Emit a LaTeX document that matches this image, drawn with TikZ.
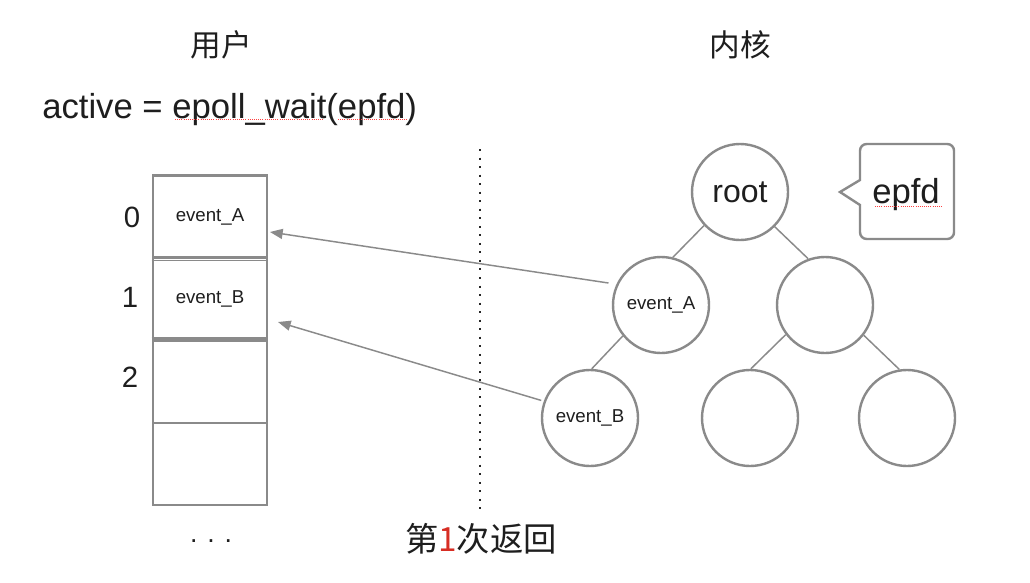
\documentclass[tikz,border=0pt]{standalone}
\usepackage{fontspec}
\setmainfont{Liberation Sans}
\newfontfamily\cjk{Noto Sans CJK SC}
\usetikzlibrary{arrows.meta,calc}
\definecolor{strokegray}{RGB}{138,138,138}
\definecolor{txt}{RGB}{30,30,30}
\definecolor{numred}{RGB}{215,45,35}
\begin{document}
\begin{tikzpicture}[x=0.75pt,y=-0.75pt,
  every node/.style={text=txt},
  cell/.style={draw=strokegray,line width=2pt,minimum width=85.5pt,minimum height=61.5pt,inner sep=0pt,font=\fontsize{14}{16}\selectfont},
  tnode/.style={circle,draw=strokegray,line width=1.8pt,minimum size=72pt,inner sep=0pt,font=\fontsize{14}{16}\selectfont},
  edge/.style={draw=strokegray,line width=1.1pt},
  arr/.style={draw=strokegray,line width=1.1pt,-{Triangle[length=9.5pt,width=7.5pt]}},
  idx/.style={font=\fontsize{22}{26}\selectfont},
  title/.style={font=\cjk\fontsize{23}{28}\selectfont},
  squig/.style={draw=red!75,line width=0.7pt,dash pattern=on 0.7pt off 0.9pt}
]
\useasboundingbox (0,0) rectangle (1030,582);
\fill[white] (0,0) rectangle (1030,582);

% titles
\node[title] (tu) at (221,45) {用户};
\node[title] (tk) at (740,45) {内核};
\node[font=\fontsize{26}{30}\selectfont,anchor=base west,inner sep=0pt] (call) at (42,118) {active = epoll\_wait(epfd)};
\draw[squig] (175,119) -- (323,119);
\draw[squig] (338,119) -- (408,119);

% array
\node[cell] (c0) at (210,216.5) {event\_A};
\node[cell] (c1) at (210,299) {event\_B};
\node[cell] (c2) at (210,382) {};
\node[cell] (c3) at (210,464) {};
\draw[strokegray,line width=1.2pt] (c0.south west) ++(0,1.5) -- ++(114,0);
\draw[strokegray,line width=1.2pt] (c2.north west) ++(0,-1.5) -- ++(114,0);
\node[idx] (i0) at (132,217) {0};
\node[idx] (i1) at (130,297) {1};
\node[idx] (i2) at (130,377) {2};
\node[font=\fontsize{20}{24}\selectfont,anchor=base,inner sep=0pt] (dots) at (211,542) {. . .};

% divider
\coordinate (dtop) at (480,149);
\coordinate (dbot) at (480,510);
\draw[line width=1.5pt,dash pattern=on 1.5pt off 4.9pt,black!85] (dtop) -- (dbot);

% tree
\node[tnode,font=\fontsize{24}{28}\selectfont] (root) at (740,192) {root};
\node[tnode] (eA) at (661,305) {event\_A};
\node[tnode] (R) at (825,305) {};
\node[tnode] (eB) at (590,418) {event\_B};
\node[tnode] (BM) at (750,418) {};
\node[tnode] (BR) at (907,418) {};
\draw[edge] (root.223) -- (eA.76);
\draw[edge] (root.315) -- (R.110);
\draw[edge] (eA.219) -- (eB.88);
\draw[edge] (R.217) -- (BM.89);
\draw[edge] (R.322) -- (BR.99);

% callout
\draw[draw=strokegray,line width=1.8pt,line join=miter] (860,180) [rounded corners=5pt] -- (860,144) -- (954,144) -- (954,239) -- (860,239) [sharp corners] -- (860,205) -- (840,192) -- cycle;
\node[font=\fontsize{26}{30}\selectfont,anchor=base,inner sep=0pt] (epfd) at (906,203) {epfd};
\draw[squig] (875,206) -- (942,206);

% arrows
\coordinate (tA) at (270,232);
\coordinate (tB) at (278,322);
\draw[arr,shorten <=6pt] (eA.155) -- (tA);
\draw[arr,shorten <=2pt] (eB.160) -- (tB);

% bottom caption
\node[font=\cjk\fontsize{25}{30}\selectfont] (cap) at (481,539) {第{\color{numred}1}次返回};
\end{tikzpicture}
\end{document}
